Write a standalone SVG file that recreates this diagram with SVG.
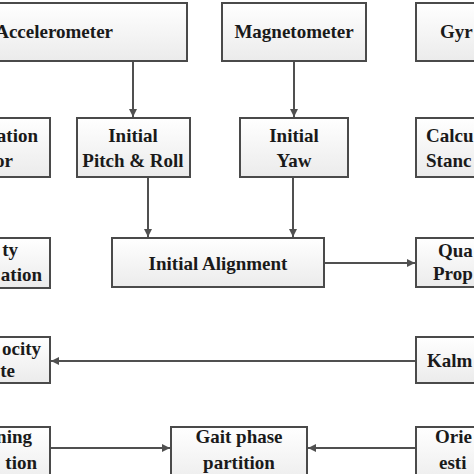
<svg xmlns="http://www.w3.org/2000/svg" width="474" height="474" viewBox="0 0 474 474">
<defs>
<linearGradient id="bg" x1="0" y1="0" x2="0" y2="1">
<stop offset="0" stop-color="#ffffff"/>
<stop offset="1" stop-color="#ebebeb"/>
</linearGradient>
<marker id="ah" viewBox="0 0 10 10" refX="10" refY="5" markerWidth="10" markerHeight="8" markerUnits="userSpaceOnUse" orient="auto">
<path d="M0,0 L10,5 L0,10 Z" fill="#505050"/>
</marker>
</defs>
<style>
.box{fill:url(#bg);stroke:#4a4a4a;stroke-width:2}
.t{font-family:"Liberation Serif","Times New Roman",serif;font-weight:bold;font-size:19px;fill:#1a1a1a}
.c{text-anchor:middle}
.e{text-anchor:end}
.s{text-anchor:start}
.ln{stroke:#505050;stroke-width:2;fill:none;marker-end:url(#ah)}
</style>
<rect width="474" height="474" fill="#ffffff"/>
<g id="connectors">
<line class="ln" x1="133" y1="61" x2="133" y2="117"/>
<line class="ln" x1="294" y1="61" x2="294" y2="117"/>
<line class="ln" x1="148" y1="177" x2="148" y2="237"/>
<line class="ln" x1="293" y1="177" x2="293" y2="237"/>
<line class="ln" x1="324" y1="263" x2="415" y2="263"/>
<line class="ln" x1="416" y1="361" x2="51" y2="361"/>
<line class="ln" x1="50" y1="448" x2="170" y2="448"/>
<line class="ln" x1="416" y1="448" x2="308" y2="448"/>
</g>
<g id="accelerometer"><rect class="box" x="-80" y="3" width="267" height="58"/><text class="t e" x="113" y="38">Accelerometer</text></g>
<g id="magnetometer"><rect class="box" x="222" y="3" width="144" height="58"/><text class="t c" x="294" y="38">Magnetometer</text></g>
<g id="gyro"><rect class="box" x="416" y="3" width="150" height="58"/><text class="t s" x="440" y="38">Gyr</text></g>
<g id="left-row2"><rect class="box" x="-80" y="118" width="130" height="59"/><text class="t e" x="38" y="142">ation</text><text class="t e" x="13" y="167">or</text></g>
<g id="pitch-roll"><rect class="box" x="77" y="118" width="113" height="59"/><text class="t c" x="133" y="142">Initial</text><text class="t c" x="133" y="167">Pitch &amp; Roll</text></g>
<g id="yaw"><rect class="box" x="240" y="118" width="108" height="59"/><text class="t c" x="294" y="142">Initial</text><text class="t c" x="294" y="167">Yaw</text></g>
<g id="calc-stance"><rect class="box" x="416" y="118" width="150" height="59"/><text class="t s" x="426" y="142">Calcu</text><text class="t s" x="426" y="167">Stanc</text></g>
<g id="left-row3"><rect class="box" x="-80" y="238" width="130" height="50"/><text class="t e" x="18" y="256">ty</text><text class="t e" x="42" y="281">ation</text></g>
<g id="alignment"><rect class="box" x="112" y="238" width="212" height="49"/><text class="t c" x="218" y="270">Initial Alignment</text></g>
<g id="quaternion"><rect class="box" x="416" y="238" width="150" height="49"/><text class="t s" x="438" y="257">Qua</text><text class="t s" x="433" y="280">Prop</text></g>
<g id="velocity-update"><rect class="box" x="-80" y="337" width="130" height="46"/><text class="t e" x="41" y="355">ocity</text><text class="t e" x="15" y="377">te</text></g>
<g id="kalman"><rect class="box" x="416" y="337" width="150" height="46"/><text class="t s" x="427" y="367">Kalm</text></g>
<g id="left-row5"><rect class="box" x="-80" y="427" width="130" height="60"/><text class="t e" x="32" y="443">ning</text><text class="t e" x="37" y="469">tion</text></g>
<g id="gait"><rect class="box" x="171" y="427" width="136" height="60"/><text class="t c" x="239" y="443">Gait phase</text><text class="t c" x="239" y="469">partition</text></g>
<g id="orientation"><rect class="box" x="416" y="427" width="150" height="60"/><text class="t s" x="435" y="443">Orie</text><text class="t s" x="439" y="469">esti</text></g>
</svg>
